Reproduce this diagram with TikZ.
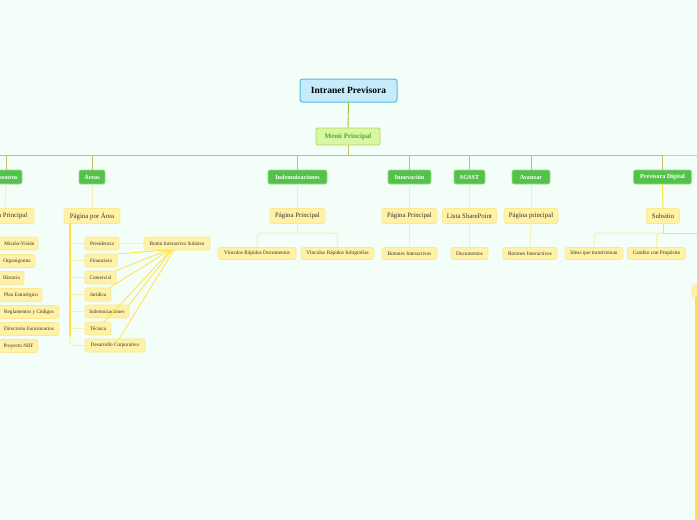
\documentclass[tikz,border=0pt]{standalone}
\usepackage{fontspec}
\setmainfont{Liberation Serif}
\definecolor{bgc}{HTML}{F4FEF8}
\definecolor{rootfill}{HTML}{C6ECFC}
\definecolor{rootdraw}{HTML}{4FB9EA}
\definecolor{menufill}{HTML}{D9F6A3}
\definecolor{menudraw}{HTML}{AEDB55}
\definecolor{menutext}{HTML}{4FAE25}
\definecolor{gfill}{HTML}{52C24A}
\definecolor{gdraw}{HTML}{A3D884}
\definecolor{yfill}{HTML}{FFF2A6}
\definecolor{ydraw}{HTML}{FBE992}
\definecolor{oliveline}{HTML}{C4BD6B}
\definecolor{oliveline2}{HTML}{D6D395}
\definecolor{rootline}{HTML}{9EC033}
\definecolor{paleline}{HTML}{F8EEAE}
\definecolor{brightline}{HTML}{FFE23F}
\definecolor{txt}{HTML}{333333}
\begin{document}
\begin{tikzpicture}[x=1pt,y=-1pt,
  every node/.style={inner sep=0pt,outer sep=0pt},
  rootbox/.style={draw=rootdraw,fill=rootfill,line width=1pt,rounded corners=2.5pt,
    minimum width=97pt,minimum height=23pt,font=\fontsize{9.5}{10}\selectfont\bfseries,text=black},
  menubox/.style={draw=menudraw,fill=menufill,line width=0.8pt,rounded corners=2pt,
    minimum width=64pt,minimum height=17pt,font=\fontsize{7}{8}\selectfont\bfseries,text=menutext},
  gbox/.style={draw=gdraw,fill=gfill,line width=0.6pt,rounded corners=2pt,
    minimum height=14pt,font=\fontsize{6.2}{7}\selectfont\bfseries,text=white},
  ybox/.style={draw=ydraw,fill=yfill,line width=0.6pt,rounded corners=2pt,
    minimum height=15pt,font=\fontsize{6.8}{7}\selectfont,text=txt},
  sbox/.style={draw=ydraw,fill=yfill,line width=0.6pt,rounded corners=2pt,
    minimum height=13pt,font=\fontsize{5.2}{6}\selectfont,text=txt},
  tbox/.style={draw=ydraw,fill=yfill,line width=0.6pt,rounded corners=2pt,
    minimum height=12pt,font=\fontsize{5.3}{6}\selectfont,text=txt},
  olivec/.style={draw=oliveline,line width=0.9pt},
  palec/.style={draw=paleline,line width=1pt},
  brightc/.style={draw=brightline,line width=0.8pt},
]
\useasboundingbox (0,0) rectangle (697,520);
\fill[bgc] (0,0) rectangle (697,520);
\clip (0,0) rectangle (697,520);

% root and menu
\node[rootbox] (root) at (348.5,90.5) {Intranet Previsora};
\node[menubox] (menu) at (348,136.5) {Menú Principal};
\draw[draw=rootline,line width=0.9pt] (root.south) -- (menu.north);

% main bar
\coordinate (barL) at (-5,155);
\coordinate (barM) at (663,155);
\coordinate (barR) at (705,155);
\draw[olivec] (menu.south) -- (menu.south |- barL);
\draw[olivec] (barL) -- (barM);
\draw[draw=oliveline2,line width=0.9pt] (barM) -- (barR);

% level 1
\node[gbox,minimum width=32pt] (nos) at (6,177) {Nosotros};
\node[gbox,minimum width=26pt] (areas) at (92,177) {Áreas};
\node[gbox,minimum width=59pt] (indem) at (297.5,177) {Indemnizaciones};
\node[gbox,minimum width=43pt] (innov) at (409.5,177) {Innovación};
\node[gbox,minimum width=31pt] (sgsst) at (469.5,177) {SGSST};
\node[gbox,minimum width=38pt] (avan) at (531,177) {Avanzar};
\node[gbox,minimum width=58pt] (pdig) at (662.5,177) {Previsora Digital};
\foreach \n in {nos,areas,indem,innov,sgsst,avan,pdig}
  \draw[olivec] (\n.north |- barL) -- (\n.north);

% level 2
\node[ybox,minimum width=58pt] (nosP) at (5,216) {Página Principal};
\node[ybox,minimum width=56pt] (areasP) at (92,216) {Página por Área};
\node[ybox,minimum width=55pt] (indemP) at (297.5,216) {Página Principal};
\node[ybox,minimum width=55pt] (innovP) at (409.5,216) {Página Principal};
\node[ybox,minimum width=54pt] (sgsstP) at (469.5,216) {Lista SharePoint};
\node[ybox,minimum width=54pt] (avanP) at (531,216) {Página principal};
\node[ybox,minimum width=33pt] (subs) at (663,216) {Subsitio};
\draw[palec] (nos.south) -- (nosP.north);
\draw[palec] (areas.south) -- (areasP.north);
\draw[palec] (indem.south) -- (indemP.north);
\draw[palec] (innov.south) -- (innovP.north);
\draw[palec] (sgsst.south) -- (sgsstP.north);
\draw[palec] (avan.south) -- (avanP.north);
\draw[draw=brightline,line width=1pt] (pdig.south) -- (subs.north);

% Nosotros children
\node[sbox,anchor=west,minimum width=39pt] (n1) at (-1,243.5) {\hspace*{2pt}Misión-Visión};
\node[sbox,anchor=west,minimum width=36pt] (n2) at (-1,261) {Organigrama};
\node[sbox,anchor=west,minimum width=25pt] (n3) at (-1,278) {Historia};
\node[sbox,anchor=west,minimum width=43pt] (n4) at (-1,295) {\hspace*{1pt}Plan Estratégico};
\node[sbox,anchor=west,minimum width=60pt] (n5) at (-1,312) {Reglamentos y Códigos};
\node[sbox,anchor=west,minimum width=60pt] (n6) at (-1,329) {Directorio Funcionarios};
\node[sbox,anchor=west,minimum width=39pt] (n7) at (-1,346) {Proyecto NIIF};

% Areas children
\node[sbox,anchor=west,minimum width=34pt] (a1) at (85,243.5) {Presidencia};
\node[sbox,anchor=west,minimum width=32pt] (a2) at (85,260.5) {Financiera};
\node[sbox,anchor=west,minimum width=31pt] (a3) at (85,277.5) {Comercial};
\node[sbox,anchor=west,minimum width=26pt] (a4) at (85,294.5) {Jurídica};
\node[sbox,anchor=west,minimum width=44pt] (a5) at (85,311.5) {Indemnizaciones};
\node[sbox,anchor=west,minimum width=26pt] (a6) at (85,328.5) {Técnica};
\node[sbox,anchor=west,minimum width=60pt] (a7) at (85,345.5) {Desarrollo Corporativo};
\coordinate (atrunk) at (70,223);
\foreach \n in {a1,a2,a3,a4,a5,a6}
  \draw[palec] (\n.west) -- (\n.west -| atrunk);
\draw[draw=brightline,line width=1.3pt] (atrunk) -- (70,337);
\draw[palec,rounded corners=4pt] (70,336) |- (a7.west);

\node[sbox,minimum width=66pt] (boton) at (177,243.5) {Botón Interactivo Subárea};
\draw[palec] (a1.east) -- (boton.west);
\draw[brightc] ([xshift=-11pt]boton.south) -- (a2.north east);
\draw[brightc] ([xshift=-9pt]boton.south) -- ([xshift=-1pt]a3.north east);
\draw[brightc] ([xshift=-7pt]boton.south) -- ([xshift=-2pt]a4.north east);
\draw[brightc] ([xshift=-5pt]boton.south) -- (a5.north east);
\draw[brightc] ([xshift=-6pt]boton.south) -- ([xshift=-7pt]a6.north east);
\draw[brightc] ([xshift=-3pt]boton.south) -- ([xshift=4pt]a7.north);

% Indemnizaciones children
\node[tbox,minimum width=78pt] (vrd) at (257,253.5) {Vínculos Rápidos Documentos};
\node[tbox,minimum width=73pt] (vri) at (337.5,253.5) {Vínculos Rápidos Infografías};
\coordinate (ij) at (297.5,233);
\draw[palec] (indemP.south) -- (ij);
\draw[palec,rounded corners=4pt] (vrd.north) |- (ij) -| (vri.north);

% Innovacion, SGSST, Avanzar children
\node[tbox,minimum width=55pt] (innovB) at (409.5,253.5) {Botones Interactivos};
\node[tbox,minimum width=37pt] (docs) at (469.5,253.5) {Documentos};
\node[tbox,minimum width=54pt] (avanB) at (530,253.5) {Botones Interactivos};
\draw[palec] (innovP.south) -- (innovB.north);
\draw[palec] (sgsstP.south) -- (docs.north);
\draw[palec] (avanP.south) -- (avanB.north);

% Previsora Digital children
\node[tbox,minimum width=58pt] (ideas) at (594,253.5) {Ideas que transforman};
\node[tbox,minimum width=58pt] (cambio) at (656.5,253.5) {Cambio con Propósito};
\coordinate (pj) at (663,233);
\coordinate (pr) at (705,233);
\draw[draw=brightline,line width=1pt] (subs.south) -- (pj) -- (pr);
\draw[palec,rounded corners=4pt] (ideas.north) |- (pj);
\draw[palec,rounded corners=4pt] (cambio.north) |- (pj);

% partial node on the right edge
\node[tbox,anchor=west,minimum width=30pt,minimum height=12pt] (part) at (692,291) {\hspace*{2pt}I};
\coordinate (pend) at (696,520);
\draw[draw=brightline,line width=2.2pt] ([xshift=4pt]part.south west) -- ([xshift=4pt]part.south west |- pend);
\end{tikzpicture}
\end{document}
